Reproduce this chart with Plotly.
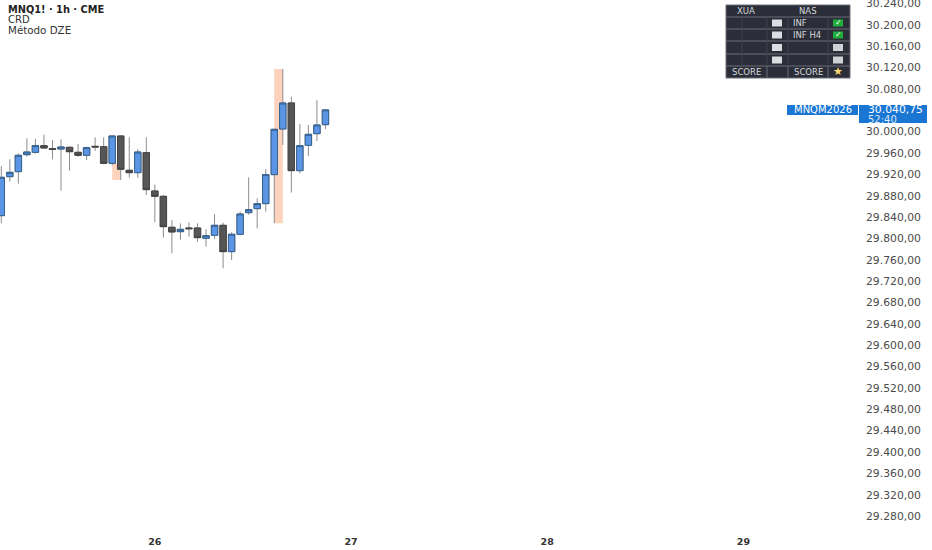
import plotly.graph_objects as go

# candle data
opens = [29842.7, 29915.7, 29925.1, 29956.9, 29961.3, 29973.8, 29968.2, 29967.5, 29970.7, 29961.3, 29955.7, 29972.5, 29971.9,
         29940.7, 29991.9, 29927.6, 29923.2, 29960.7, 29888.9, 29878.9, 29820.9, 29812.7, 29819.6, 29819.6, 29800.3, 29805.9,
         29824.6, 29775.3, 29807.8, 29848.3, 29855.8, 29865.2, 29919.5, 30005.0, 30053.7, 29927.0, 29974.4, 29996.2, 30013.1]
closes = [29914.5, 29923.8, 29955.7, 29961.9, 29973.8, 29969.4, 29966.9, 29971.3, 29962.5, 29955.7, 29970.0, 29971.3, 29940.7,
          29991.9, 29929.5, 29923.2, 29961.9, 29891.4, 29878.9, 29822.1, 29812.1, 29817.1, 29818.3, 29801.5, 29805.2, 29824.6,
          29775.3, 29807.8, 29845.8, 29853.9, 29865.2, 29919.5, 30004.4, 30053.7, 29927.0, 29973.8, 29995.0, 30012.5, 30040.75]
highs = [29935.7, 29948.2, 29959.4, 29987.5, 29986.3, 29994.4, 29984.4, 29985.6, 29971.9, 29976.9, 29971.9, 29989.4, 29989.4,
         29993.1, 29993.1, 29989.4, 29966.9, 29989.4, 29900.8, 29881.4, 29834.6, 29828.3, 29830.2, 29828.3, 29817.1, 29845.8,
         29829.6, 29811.5, 29850.2, 29914.5, 29875.2, 29929.5, 30004.4, 30117.3, 30065.5, 30014.4, 30012.5, 30058.7, 30041.0]
lows = [29828.3, 29906.4, 29902.6, 29953.2, 29958.8, 29968.2, 29948.2, 29889.5, 29927.0, 29952.6, 29946.9, 29963.8, 29938.8,
        29937.0, 29909.5, 29913.9, 29913.9, 29881.4, 29830.2, 29801.5, 29772.2, 29797.8, 29803.4, 29794.0, 29784.6, 29799.0,
        29744.1, 29759.7, 29805.9, 29844.6, 29819.0, 29850.2, 29828.3, 29975.0, 29885.8, 29922.0, 29954.4, 29982.5, 30005.0]

band_start = [13, 32]
band_end = [14, 33]
band_top = [29940.7, 30117.3]
band_bottom = [29909.5, 29828.3]

price_ticks = list(range(29280, 30241, 40))
day_ticks = [18, 41, 64, 87]
day_labels = ['<b>26</b>', '<b>27</b>', '<b>28</b>', '<b>29</b>']

W_PLOT = 862
H_PLOT = 530
BLUE = '#5b96e6'
DARK = '#565656'
TAG = '#1976d2'
PANEL = '#2b2e38'
GRID = '#6c6f78'
GRID_DIM = '#3d404b'


def px(x):
    return x / W_PLOT


def py(y):
    return 1 - y / H_PLOT


def box(x0, y0, x1, y1, fill, line=None):
    return dict(type='rect', xref='paper', yref='paper', x0=px(x0), x1=px(x1), y0=py(y0), y1=py(y1),
                fillcolor=fill, line=dict(color=line or fill, width=1 if line else 0), layer='above')


def rule(x0, y0, x1, y1, color=GRID):
    return dict(type='line', xref='paper', yref='paper', x0=px(x0), x1=px(x1), y0=py(y0), y1=py(y1),
                line=dict(color=color, width=1), layer='above')


def label(x, y, text, size=8.5, color='#d5d7dc', anchor='center', font='DejaVu Sans'):
    return dict(xref='paper', yref='paper', x=px(x), y=py(y), text=text, showarrow=False, xanchor=anchor,
                yanchor='middle', font=dict(size=size, color=color, family=font), borderpad=0)


idx = list(range(len(opens)))
fig = go.Figure()
# wicks
fig.add_trace(go.Candlestick(
    x=idx, open=opens, close=closes, high=highs, low=lows, whiskerwidth=0,
    increasing=dict(line=dict(color='#8c8c8c', width=1), fillcolor=BLUE),
    decreasing=dict(line=dict(color='#8c8c8c', width=1), fillcolor=DARK),
))
# bodies on top of the wicks
fig.add_trace(go.Candlestick(
    x=idx, open=opens, close=closes,
    high=[max(a, b) for a, b in zip(opens, closes)],
    low=[min(a, b) for a, b in zip(opens, closes)],
    whiskerwidth=0,
    increasing=dict(line=dict(color='#35618f', width=1), fillcolor=BLUE),
    decreasing=dict(line=dict(color='#444444', width=1), fillcolor=DARK),
))

shapes = []
for a, b, top, bottom in zip(band_start, band_end, band_top, band_bottom):
    shapes.append(dict(type='rect', xref='x', yref='y', x0=a, x1=b, y0=bottom, y1=top,
                       fillcolor='#fdd3bd', line=dict(width=0), layer='below'))

# status panel
shapes.append(box(726, 5, 850, 78, PANEL, GRID))
for y in [17, 29, 41, 54, 66]:
    shapes.append(rule(726, y, 850, y))
shapes.append(rule(767, 66, 767, 78))
shapes.append(rule(788, 66, 788, 78))
shapes.append(rule(828, 66, 828, 78))
shapes.append(rule(742, 17, 742, 66, GRID_DIM))
shapes.append(rule(767, 17, 767, 66, GRID_DIM))
shapes.append(rule(788, 17, 788, 66, GRID_DIM))
shapes.append(rule(828, 17, 828, 66, GRID_DIM))
for y in [23, 35, 47.5, 60]:
    shapes.append(box(772, y - 3.5, 782, y + 3.5, '#dcdde2'))
for y in [47.5, 60]:
    shapes.append(box(833, y - 3.5, 843, y + 3.5, '#d0d1d6'))
for y in [23, 35]:
    shapes.append(box(833, y - 3.5, 843, y + 3.5, '#1fae3c'))

# price tags
shapes.append(box(787, 105, 858, 115, TAG))
shapes.append(box(859, 105, 927, 123, TAG))

annotations = [
    label(7, 10, '<b>MNQ1! · 1h · CME</b>', 9.8, '#222222', 'left'),
    label(7, 20, 'CRD', 10, '#333333', 'left'),
    label(7, 30, 'Método DZE', 10.3, '#333333', 'left'),
    label(746, 11, 'XUA'),
    label(808, 11, 'NAS'),
    label(792, 23, 'INF', anchor='left'),
    label(792, 35, 'INF H4', anchor='left'),
    label(746, 72, 'SCORE'),
    label(808, 72, 'SCORE'),
    label(838, 23, '✓', 8, '#ffffff'),
    label(838, 35, '✓', 8, '#ffffff'),
    label(838, 72, '★', 11, '#f5d76e'),
    label(822.5, 110, 'MNQM2026', 10, '#ffffff'),
    label(867, 109.7, '30.040,75', 10.8, '#ffffff', 'left'),
    label(867, 119, '52:40', 10, '#d8e8f8', 'left'),
]

fig.update_layout(
    width=932, height=550, margin=dict(l=0, r=70, t=0, b=20, autoexpand=False),
    paper_bgcolor='white', plot_bgcolor='white', showlegend=False,
    separators=',.', shapes=shapes, annotations=annotations,
    boxgap=0.25, boxgroupgap=0, boxmode='overlay',
    xaxis=dict(range=[-0.152, 100.9], tickmode='array', tickvals=day_ticks, ticktext=day_labels,
               showgrid=False, zeroline=False, showline=False, ticks='outside', ticklen=3,
               tickcolor='rgba(0,0,0,0)', rangeslider=dict(visible=False),
               tickfont=dict(family='DejaVu Sans', size=9.5, color='#333333')),
    yaxis=dict(range=[29254, 30246.55], side='right', tickmode='array', tickvals=price_ticks,
               tickformat=',.2f', showgrid=False, zeroline=False, showline=False, ticks='',
               ticklabeloverflow='allow', ticklabelstandoff=3,
               tickfont=dict(family='DejaVu Sans', size=10.8, color='#4a4a4a')),
)

# the page's default body margin would push the chart 8px off
fig.write_html("out.html", config={'displayModeBar': False}, post_script="document.body.style.margin='0';")
